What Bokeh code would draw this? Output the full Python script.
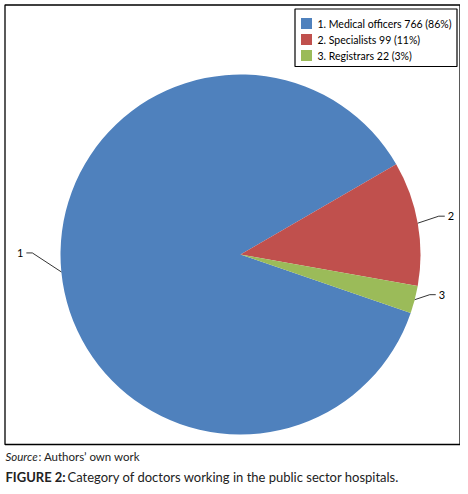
import math

from bokeh.core.properties import value
from bokeh.embed import file_html
from bokeh.models import ColumnDataSource, Range1d
from bokeh.plotting import figure
from bokeh.resources import INLINE

# data
slice_ids = ["1", "2", "3"]
categories = ["Medical officers", "Specialists", "Registrars"]
counts = [766, 99, 22]
percents = [86, 11, 3]
colors = ["#4F81BD", "#C0504D", "#9BBB59"]

FONT = "Lato"
W, H = 460, 486


def py(y):
    # pixel y from the top -> plot y (plot y grows upwards)
    return H - y


p = figure(width=W, height=H, x_range=Range1d(0, W), y_range=Range1d(0, H),
           output_backend="svg", toolbar_location=None, tools="", min_border=0)
p.axis.visible = False
p.grid.visible = False
p.outline_line_color = None

# outer frame of the chart area
p.quad(left=[4.5], right=[459.5], top=[py(4.5)], bottom=[py(444)],
       fill_color=None, line_color="black", line_width=1.3)

# pie: excel style, clockwise, first slice starting at 341 deg
cx, cy, r = 240, py(254), 180
start_deg = 341.0
total = float(sum(counts))
starts, ends, mids = [], [], []
acc = 0.0
for c in counts:
    a0 = start_deg - acc / total * 360
    acc += c
    a1 = start_deg - acc / total * 360
    starts.append(math.radians(a0))
    ends.append(math.radians(a1))
    mids.append(math.radians((a0 + a1) / 2))

src = ColumnDataSource(data=dict(id=slice_ids, start=starts, end=ends, color=colors))
p.wedge(x=cx, y=cy, radius=r, start_angle="start", end_angle="end", direction="clock",
        fill_color="color", line_color=None, source=src)

# leader lines with numeric labels
leader_dx = [-29, 21, 15]
leader_dy = [19, 7, 5]
stub = 6
for i, m in enumerate(mids):
    ex = cx + r * math.cos(m)
    ey = cy + r * math.sin(m)
    side = 1 if math.cos(m) > 0 else -1
    bx = ex + leader_dx[i]
    by = ey + leader_dy[i]
    sx = bx + side * stub
    p.line([ex, bx, sx], [ey, by, by], line_color="black", line_width=0.8)
    p.text(x=[sx + side * 3], y=[by], text=[slice_ids[i]], text_font=value(FONT),
           text_font_size="11px", text_baseline="middle",
           text_align="left" if side > 0 else "right", text_color="black")

# legend
p.quad(left=[294.5], right=[456.5], top=[py(8.5)], bottom=[py(66)],
       fill_color="white", line_color="black", line_width=1.2)
leg_y = [py(23 + 16 * i) for i in range(len(categories))]
leg_txt = ["%s. %s %d (%d%%)" % (slice_ids[i], categories[i], counts[i], percents[i])
           for i in range(len(categories))]
leg = ColumnDataSource(data=dict(y=leg_y, txt=leg_txt, color=colors))
p.rect(x=306, y="y", width=11, height=11, fill_color="color", line_color=None, source=leg)
p.text(x=317, y="y", text="txt", source=leg, text_font=value(FONT), text_font_size="10.5px",
       text_baseline="middle", text_color="black")

# source line and caption
p.text(x=[5], y=[py(456)], text=["Source"], text_font=value(FONT), text_font_size="11.5px",
       text_font_style="italic", text_baseline="middle", text_color="#222222")
p.text(x=[38], y=[py(456)], text=[": Authors\u2019 own work"], text_font=value(FONT),
       text_font_size="11.5px", text_baseline="middle", text_color="#222222")
p.text(x=[5], y=[py(476)], text=["FIGURE 2:"], text_font=value(FONT), text_font_size="13px",
       text_font_style="bold", text_baseline="middle", text_color="#222222")
p.text(x=[67], y=[py(476)], text=["Category of doctors working in the public sector hospitals."],
       text_font=value(FONT), text_font_size="13px", text_baseline="middle", text_color="#222222")

open("out.html", "w").write(file_html(p, INLINE))
